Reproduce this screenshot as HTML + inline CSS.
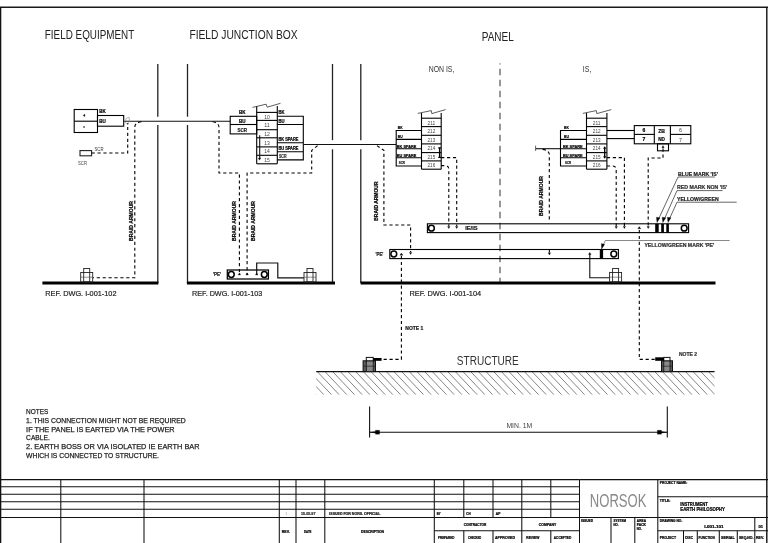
<!DOCTYPE html>
<html lang="en"><head><meta charset="utf-8"><title>Instrument Earth Philosophy</title>
<style>
html,body{margin:0;padding:0;background:#fff;}
body{width:768px;height:543px;overflow:hidden;}
svg{display:block;will-change:transform;transform:translateZ(0);font-family:"Liberation Sans","DejaVu Sans",sans-serif;}
</style></head><body>
<svg width="768" height="543" viewBox="0 0 768 543">
<rect x="0" y="0" width="768" height="543" fill="#fff"/>
<line x1="0" y1="7.3" x2="768" y2="7.3" stroke="#1a1a1a" stroke-width="1.5"/>
<line x1="0.6" y1="7" x2="0.6" y2="543" stroke="#111" stroke-width="1.4"/>
<line x1="766.8" y1="7" x2="766.8" y2="543" stroke="#111" stroke-width="1.4"/>
<text x="44.8" y="38.6" font-size="12.2" font-weight="normal" fill="#222" text-anchor="start" textLength="89.5" lengthAdjust="spacingAndGlyphs">FIELD EQUIPMENT</text>
<text x="189.4" y="38.6" font-size="12.2" font-weight="normal" fill="#222" text-anchor="start" textLength="108.2" lengthAdjust="spacingAndGlyphs">FIELD JUNCTION BOX</text>
<text x="481.7" y="40.8" font-size="12.8" font-weight="normal" fill="#222" text-anchor="start" textLength="32.1" lengthAdjust="spacingAndGlyphs">PANEL</text>
<text x="428.7" y="71.8" font-size="8.4" font-weight="normal" fill="#333" text-anchor="start" textLength="25.7" lengthAdjust="spacingAndGlyphs">NON IS,</text>
<text x="582.8" y="71.8" font-size="8.4" font-weight="normal" fill="#333" text-anchor="start" textLength="8.6" lengthAdjust="spacingAndGlyphs">IS,</text>
<line x1="157.8" y1="64" x2="157.8" y2="116.7" stroke="#222" stroke-width="1.3"/>
<line x1="157.8" y1="125" x2="157.8" y2="283" stroke="#222" stroke-width="1.3"/>
<line x1="187.5" y1="64" x2="187.5" y2="116.7" stroke="#222" stroke-width="1.3"/>
<line x1="187.5" y1="125" x2="187.5" y2="283" stroke="#222" stroke-width="1.3"/>
<line x1="332.5" y1="64" x2="332.5" y2="140.2" stroke="#222" stroke-width="1.3"/>
<line x1="332.5" y1="149.3" x2="332.5" y2="283" stroke="#222" stroke-width="1.3"/>
<line x1="360.8" y1="64" x2="360.8" y2="140.2" stroke="#222" stroke-width="1.3"/>
<line x1="360.8" y1="149.3" x2="360.8" y2="283" stroke="#222" stroke-width="1.3"/>
<line x1="500" y1="68.7" x2="500" y2="282" stroke="#444" stroke-width="1.1" stroke-dasharray="6.5 4.5"/>
<line x1="500" y1="63.3" x2="500" y2="64.5" stroke="#666" stroke-width="1.1"/>
<line x1="42.4" y1="283" x2="158.4" y2="283" stroke="#000" stroke-width="2.8"/>
<line x1="186.9" y1="283" x2="335" y2="283" stroke="#000" stroke-width="2.8"/>
<line x1="360.6" y1="283" x2="715.5" y2="283" stroke="#000" stroke-width="2.8"/>
<rect x="74.2" y="109.5" width="23.3" height="23.0" fill="none" stroke="#000" stroke-width="1.1"/>
<line x1="74.2" y1="121.2" x2="97.5" y2="121.2" stroke="#000" stroke-width="1.1"/>
<rect x="97.5" y="115.5" width="26.2" height="10.7" fill="none" stroke="#000" stroke-width="1.1"/>
<text x="99.3" y="113.4" font-size="5.2" font-weight="bold" fill="#000" text-anchor="start" textLength="6.5" lengthAdjust="spacingAndGlyphs" stroke="#000" stroke-width="0.22">BK</text>
<text x="99.3" y="122.6" font-size="5.2" font-weight="bold" fill="#000" text-anchor="start" textLength="6.5" lengthAdjust="spacingAndGlyphs" stroke="#000" stroke-width="0.22">BU</text>
<path d="M84.8 114.2 L83.2 115.4 L84.8 116.6 Z" fill="#000" stroke="#000" stroke-width="0.4"/>
<line x1="83.2" y1="127" x2="85" y2="127" stroke="#000" stroke-width="1"/>
<line x1="123.7" y1="121.3" x2="230.2" y2="121.3" stroke="#111" stroke-width="1.1"/>
<rect x="80" y="150.6" width="11.6" height="5.2" fill="none" stroke="#222" stroke-width="1.1"/>
<text x="94.5" y="150.6" font-size="4.8" font-weight="normal" fill="#333" text-anchor="start" textLength="9" lengthAdjust="spacingAndGlyphs">SCR</text>
<text x="78" y="164.6" font-size="4.8" font-weight="normal" fill="#444" text-anchor="start" textLength="9" lengthAdjust="spacingAndGlyphs">SCR</text>
<path d="M91.6 153 H127.7 V123" fill="none" stroke="#000" stroke-width="1.1" stroke-dasharray="3.2 2.7"/>
<path d="M141.5 121.8 Q135 122.6 134.8 127 V277.7 H93" fill="none" stroke="#000" stroke-width="1.1" stroke-dasharray="3.2 2.7"/>
<path d="M124.5 121.3 Q126.5 116.6 129.2 117.4 Q130.2 121.5 127.8 124.6 Q125.4 123.5 124.5 121.3" fill="none" stroke="#888" stroke-width="0.6"/>
<rect x="80.7" y="272.5" width="12.0" height="9.5" fill="none" stroke="#222" stroke-width="0.9"/>
<rect x="83.7" y="268.5" width="6.0" height="13.5" fill="none" stroke="#222" stroke-width="0.9"/>
<line x1="80.7" y1="277.2" x2="92.7" y2="277.2" stroke="#444" stroke-width="0.6"/>
<text x="132.6" y="241" font-size="5" font-weight="bold" fill="#000" text-anchor="start" textLength="40" lengthAdjust="spacingAndGlyphs" transform="rotate(-90 132.6 241)" stroke="#000" stroke-width="0.22">BRAID ARMOUR</text>
<text x="45.3" y="296.2" font-size="8" font-weight="normal" fill="#222" text-anchor="start" textLength="71.2" lengthAdjust="spacingAndGlyphs" stroke="#222" stroke-width="0.2">REF. DWG. I-001-102</text>
<line x1="256.7" y1="112.4" x2="277.3" y2="112.4" stroke="#000" stroke-width="1.1"/>
<line x1="256.7" y1="120.4" x2="277.3" y2="120.4" stroke="#000" stroke-width="1.1"/>
<line x1="256.7" y1="129.7" x2="277.3" y2="129.7" stroke="#000" stroke-width="1.1"/>
<line x1="256.7" y1="137.8" x2="277.3" y2="137.8" stroke="#000" stroke-width="1.1"/>
<line x1="256.7" y1="146.9" x2="277.3" y2="146.9" stroke="#000" stroke-width="1.1"/>
<line x1="256.7" y1="155.3" x2="277.3" y2="155.3" stroke="#000" stroke-width="1.1"/>
<line x1="256.7" y1="163.8" x2="277.3" y2="163.8" stroke="#000" stroke-width="1.1"/>
<line x1="256.7" y1="105.9" x2="256.7" y2="163.8" stroke="#000" stroke-width="1.1"/>
<line x1="277.3" y1="105.9" x2="277.3" y2="163.8" stroke="#000" stroke-width="1.1"/>
<text x="267.0" y="118.6" font-size="6" font-weight="normal" fill="#444" text-anchor="middle" textLength="5.6" lengthAdjust="spacingAndGlyphs">10</text>
<text x="267.0" y="127.25" font-size="6" font-weight="normal" fill="#444" text-anchor="middle" textLength="5.6" lengthAdjust="spacingAndGlyphs">11</text>
<text x="267.0" y="135.95" font-size="6" font-weight="normal" fill="#444" text-anchor="middle" textLength="5.6" lengthAdjust="spacingAndGlyphs">12</text>
<text x="267.0" y="144.55" font-size="6" font-weight="normal" fill="#444" text-anchor="middle" textLength="5.6" lengthAdjust="spacingAndGlyphs">13</text>
<text x="267.0" y="153.3" font-size="6" font-weight="normal" fill="#444" text-anchor="middle" textLength="5.6" lengthAdjust="spacingAndGlyphs">14</text>
<text x="267.0" y="161.75" font-size="6" font-weight="normal" fill="#444" text-anchor="middle" textLength="5.6" lengthAdjust="spacingAndGlyphs">15</text>
<path d="M252.5 107.4 L266.2 104.2 L267.2 107.2 L280.5 103.3" fill="none" stroke="#333" stroke-width="0.8"/>
<rect x="230.2" y="116.3" width="26.5" height="17.6" fill="none" stroke="#000" stroke-width="1.1"/>
<line x1="230.2" y1="124.5" x2="256.7" y2="124.5" stroke="#000" stroke-width="1.1"/>
<text x="239" y="113.6" font-size="5.2" font-weight="bold" fill="#000" text-anchor="start" textLength="6.5" lengthAdjust="spacingAndGlyphs" stroke="#000" stroke-width="0.22">BK</text>
<text x="239" y="122.6" font-size="5.2" font-weight="bold" fill="#000" text-anchor="start" textLength="6.5" lengthAdjust="spacingAndGlyphs" stroke="#000" stroke-width="0.22">BU</text>
<text x="237.6" y="132" font-size="5.2" font-weight="bold" fill="#222" text-anchor="start" textLength="9.5" lengthAdjust="spacingAndGlyphs" stroke="#222" stroke-width="0.22">SCR</text>
<path d="M277.3 116.3 H303.3 V159.9 H277.3 M277.3 124.5 H303.3 M277.3 142.7 H303.3 M277.3 151.8 H303.3" fill="none" stroke="#000" stroke-width="1.1"/>
<text x="278.6" y="114.2" font-size="4.8" font-weight="bold" fill="#000" text-anchor="start" textLength="6" lengthAdjust="spacingAndGlyphs" stroke="#000" stroke-width="0.22">BK</text>
<text x="278.6" y="122.8" font-size="4.8" font-weight="bold" fill="#000" text-anchor="start" textLength="6" lengthAdjust="spacingAndGlyphs" stroke="#000" stroke-width="0.22">BU</text>
<text x="278.4" y="141.4" font-size="4.6" font-weight="bold" fill="#000" text-anchor="start" textLength="20" lengthAdjust="spacingAndGlyphs" stroke="#000" stroke-width="0.22">BK SPARE</text>
<text x="278.4" y="150.4" font-size="4.6" font-weight="bold" fill="#000" text-anchor="start" textLength="20" lengthAdjust="spacingAndGlyphs" stroke="#000" stroke-width="0.22">BU SPARE</text>
<text x="279" y="158.4" font-size="4.6" font-weight="bold" fill="#333" text-anchor="start" textLength="7.5" lengthAdjust="spacingAndGlyphs" stroke="#333" stroke-width="0.22">SCR</text>
<line x1="259.7" y1="135.2" x2="259.7" y2="159.2" stroke="#111" stroke-width="1.1"/>
<path d="M258.4 158 L259.4 160.2 L260.6 158 Z" fill="#000" stroke="#000" stroke-width="0.3"/>
<line x1="303.3" y1="144.5" x2="396.2" y2="144.5" stroke="#111" stroke-width="1.1"/>
<path d="M212.6 121.8 Q218.5 122.6 219 127 V173 H239.4 V274" fill="none" stroke="#000" stroke-width="1.1" stroke-dasharray="3.2 2.7"/>
<path d="M317.6 145.6 L311.7 150.4 V173 H247.1 V274" fill="none" stroke="#000" stroke-width="1.1" stroke-dasharray="3.2 2.7"/>
<text x="236.4" y="241" font-size="5" font-weight="bold" fill="#000" text-anchor="start" textLength="40" lengthAdjust="spacingAndGlyphs" transform="rotate(-90 236.4 241)" stroke="#000" stroke-width="0.22">BRAID ARMOUR</text>
<text x="254.8" y="241" font-size="5" font-weight="bold" fill="#000" text-anchor="start" textLength="40" lengthAdjust="spacingAndGlyphs" transform="rotate(-90 254.8 241)" stroke="#000" stroke-width="0.22">BRAID ARMOUR</text>
<rect x="227.3" y="270" width="41.1" height="9" fill="none" stroke="#000" stroke-width="1.25"/>
<circle cx="231.3" cy="274.5" r="2.9" fill="#fff" stroke="#000" stroke-width="1.5"/>
<circle cx="264.3" cy="274.5" r="2.9" fill="#fff" stroke="#000" stroke-width="1.5"/>
<path d="M238.20000000000002 275.0 L239.4 272.8 L240.6 275.0 Z" fill="#000" stroke="#000" stroke-width="0.3"/>
<path d="M245.9 275.0 L247.1 272.8 L248.29999999999998 275.0 Z" fill="#000" stroke="#000" stroke-width="0.3"/>
<path d="M255.5 275.0 L256.7 272.8 L257.9 275.0 Z" fill="#000" stroke="#000" stroke-width="0.3"/>
<path d="M256.7 275 V263 H277.8 V277.8 H304" fill="none" stroke="#111" stroke-width="1.2"/>
<rect x="304" y="272.5" width="12" height="9.5" fill="none" stroke="#222" stroke-width="0.9"/>
<rect x="307" y="268.5" width="6" height="13.5" fill="none" stroke="#222" stroke-width="0.9"/>
<line x1="304" y1="277.2" x2="316" y2="277.2" stroke="#444" stroke-width="0.6"/>
<text x="213" y="276.4" font-size="5" font-weight="bold" fill="#222" text-anchor="start" textLength="8" lengthAdjust="spacingAndGlyphs" stroke="#222" stroke-width="0.22">'PE'</text>
<text x="192" y="296.2" font-size="8" font-weight="normal" fill="#222" text-anchor="start" textLength="70.2" lengthAdjust="spacingAndGlyphs" stroke="#222" stroke-width="0.2">REF. DWG. I-001-103</text>
<line x1="421.5" y1="118.2" x2="441.2" y2="118.2" stroke="#000" stroke-width="1.1"/>
<line x1="421.5" y1="126.6" x2="441.2" y2="126.6" stroke="#000" stroke-width="1.1"/>
<line x1="421.5" y1="135.3" x2="441.2" y2="135.3" stroke="#000" stroke-width="1.1"/>
<line x1="421.5" y1="143.9" x2="441.2" y2="143.9" stroke="#000" stroke-width="1.1"/>
<line x1="421.5" y1="152.6" x2="441.2" y2="152.6" stroke="#000" stroke-width="1.1"/>
<line x1="421.5" y1="160.9" x2="441.2" y2="160.9" stroke="#000" stroke-width="1.1"/>
<line x1="421.5" y1="169.2" x2="441.2" y2="169.2" stroke="#000" stroke-width="1.1"/>
<line x1="421.5" y1="113" x2="421.5" y2="169.2" stroke="#000" stroke-width="1.1"/>
<line x1="441.2" y1="113" x2="441.2" y2="169.2" stroke="#000" stroke-width="1.1"/>
<text x="431.35" y="124.6" font-size="6" font-weight="normal" fill="#444" text-anchor="middle" textLength="7.8" lengthAdjust="spacingAndGlyphs">211</text>
<text x="431.35" y="133.15" font-size="6" font-weight="normal" fill="#444" text-anchor="middle" textLength="7.8" lengthAdjust="spacingAndGlyphs">212</text>
<text x="431.35" y="141.8" font-size="6" font-weight="normal" fill="#444" text-anchor="middle" textLength="7.8" lengthAdjust="spacingAndGlyphs">213</text>
<text x="431.35" y="150.45" font-size="6" font-weight="normal" fill="#444" text-anchor="middle" textLength="7.8" lengthAdjust="spacingAndGlyphs">214</text>
<text x="431.35" y="158.95" font-size="6" font-weight="normal" fill="#444" text-anchor="middle" textLength="7.8" lengthAdjust="spacingAndGlyphs">215</text>
<text x="431.35" y="167.25" font-size="6" font-weight="normal" fill="#444" text-anchor="middle" textLength="7.8" lengthAdjust="spacingAndGlyphs">216</text>
<path d="M417.8 113.4 L431.3 110.6 L431.8 113.6 L445.59999999999997 109.6" fill="none" stroke="#333" stroke-width="0.8"/>
<path d="M421.5 130.5 H396.2 V166 H421.5 M396.2 139.4 H421.5 M396.2 148.8 H421.5 M396.2 157.7 H421.5" fill="none" stroke="#000" stroke-width="1.1"/>
<text x="397.8" y="129" font-size="4.4" font-weight="bold" fill="#000" text-anchor="start" textLength="4.8" lengthAdjust="spacingAndGlyphs" stroke="#000" stroke-width="0.22">BK</text>
<text x="397.8" y="137.9" font-size="4.4" font-weight="bold" fill="#000" text-anchor="start" textLength="4.8" lengthAdjust="spacingAndGlyphs" stroke="#000" stroke-width="0.22">BU</text>
<text x="396.8" y="147.5" font-size="4.4" font-weight="bold" fill="#000" text-anchor="start" textLength="19.6" lengthAdjust="spacingAndGlyphs" stroke="#000" stroke-width="0.22">BK SPARE</text>
<text x="396.8" y="156.5" font-size="4.4" font-weight="bold" fill="#000" text-anchor="start" textLength="19.6" lengthAdjust="spacingAndGlyphs" stroke="#000" stroke-width="0.22">BU SPARE</text>
<text x="398.8" y="164.1" font-size="4.4" font-weight="bold" fill="#222" text-anchor="start" textLength="6.2" lengthAdjust="spacingAndGlyphs" stroke="#222" stroke-width="0.22">SCR</text>
<line x1="586.5" y1="118.2" x2="606.9" y2="118.2" stroke="#000" stroke-width="1.1"/>
<line x1="586.5" y1="126.6" x2="606.9" y2="126.6" stroke="#000" stroke-width="1.1"/>
<line x1="586.5" y1="135.3" x2="606.9" y2="135.3" stroke="#000" stroke-width="1.1"/>
<line x1="586.5" y1="143.9" x2="606.9" y2="143.9" stroke="#000" stroke-width="1.1"/>
<line x1="586.5" y1="152.6" x2="606.9" y2="152.6" stroke="#000" stroke-width="1.1"/>
<line x1="586.5" y1="160.9" x2="606.9" y2="160.9" stroke="#000" stroke-width="1.1"/>
<line x1="586.5" y1="169.2" x2="606.9" y2="169.2" stroke="#000" stroke-width="1.1"/>
<line x1="586.5" y1="113" x2="586.5" y2="169.2" stroke="#000" stroke-width="1.1"/>
<line x1="606.9" y1="113" x2="606.9" y2="169.2" stroke="#000" stroke-width="1.1"/>
<text x="596.7" y="124.6" font-size="6" font-weight="normal" fill="#444" text-anchor="middle" textLength="7.8" lengthAdjust="spacingAndGlyphs">211</text>
<text x="596.7" y="133.15" font-size="6" font-weight="normal" fill="#444" text-anchor="middle" textLength="7.8" lengthAdjust="spacingAndGlyphs">212</text>
<text x="596.7" y="141.8" font-size="6" font-weight="normal" fill="#444" text-anchor="middle" textLength="7.8" lengthAdjust="spacingAndGlyphs">213</text>
<text x="596.7" y="150.45" font-size="6" font-weight="normal" fill="#444" text-anchor="middle" textLength="7.8" lengthAdjust="spacingAndGlyphs">214</text>
<text x="596.7" y="158.95" font-size="6" font-weight="normal" fill="#444" text-anchor="middle" textLength="7.8" lengthAdjust="spacingAndGlyphs">215</text>
<text x="596.7" y="167.25" font-size="6" font-weight="normal" fill="#444" text-anchor="middle" textLength="7.8" lengthAdjust="spacingAndGlyphs">216</text>
<path d="M582.8 113.4 L596.3 110.6 L596.8 113.6 L611.3 109.6" fill="none" stroke="#333" stroke-width="0.8"/>
<path d="M586.5 130.5 H560.5 V166 H586.5 M560.5 139.4 H586.5 M560.5 148.8 H586.5 M560.5 157.7 H586.5" fill="none" stroke="#000" stroke-width="1.1"/>
<text x="564.0" y="129" font-size="4.4" font-weight="bold" fill="#000" text-anchor="start" textLength="4.8" lengthAdjust="spacingAndGlyphs" stroke="#000" stroke-width="0.22">BK</text>
<text x="564.0" y="137.9" font-size="4.4" font-weight="bold" fill="#000" text-anchor="start" textLength="4.8" lengthAdjust="spacingAndGlyphs" stroke="#000" stroke-width="0.22">BU</text>
<text x="563.0" y="147.5" font-size="4.4" font-weight="bold" fill="#000" text-anchor="start" textLength="19.6" lengthAdjust="spacingAndGlyphs" stroke="#000" stroke-width="0.22">BK SPARE</text>
<text x="563.0" y="156.5" font-size="4.4" font-weight="bold" fill="#000" text-anchor="start" textLength="19.6" lengthAdjust="spacingAndGlyphs" stroke="#000" stroke-width="0.22">BU SPARE</text>
<text x="565.0" y="164.1" font-size="4.4" font-weight="bold" fill="#222" text-anchor="start" textLength="6.2" lengthAdjust="spacingAndGlyphs" stroke="#222" stroke-width="0.22">SCR</text>
<path d="M438.2 147.9 H441 M439.6 147.9 V157.4 M438.2 157.4 H441" fill="none" stroke="#000" stroke-width="1.3"/>
<line x1="604.7" y1="147.4" x2="604.7" y2="157.4" stroke="#000" stroke-width="1.3"/>
<path d="M603.4000000000001 148.6 L604.7 146.4 L606.0 148.6 Z" fill="#000" stroke="#000" stroke-width="0.3"/>
<path d="M603.4000000000001 156.4 L604.7 158.6 L606.0 156.4 Z" fill="#000" stroke="#000" stroke-width="0.3"/>
<path d="M377 145.6 L383.9 150.4 V225 H410.6 V252" fill="none" stroke="#000" stroke-width="1.1" stroke-dasharray="3.2 2.7"/>
<path d="M409.40000000000003 252.4 L410.6 254.6 L411.8 252.4 Z" fill="#000" stroke="#000" stroke-width="0.3"/>
<path d="M441.1 157.6 H456.7 V226" fill="none" stroke="#000" stroke-width="1.1" stroke-dasharray="3.2 2.7"/>
<path d="M441.1 165.6 H446 Q448.6 166 448.8 169 V226" fill="none" stroke="#000" stroke-width="1.1" stroke-dasharray="3.2 2.7"/>
<path d="M447.6 226.4 L448.8 228.6 L450.0 226.4 Z" fill="#000" stroke="#000" stroke-width="0.3"/>
<path d="M455.5 226.4 L456.7 228.6 L457.9 226.4 Z" fill="#000" stroke="#000" stroke-width="0.3"/>
<text x="377.6" y="220.7" font-size="5" font-weight="bold" fill="#000" text-anchor="start" textLength="39.2" lengthAdjust="spacingAndGlyphs" transform="rotate(-90 377.6 220.7)" stroke="#000" stroke-width="0.22">BRAID ARMOUR</text>
<line x1="535.6" y1="148.7" x2="560.5" y2="148.7" stroke="#111" stroke-width="1.1"/>
<line x1="535.6" y1="145.6" x2="535.6" y2="151" stroke="#555" stroke-width="0.9"/>
<path d="M542.6 149.4 Q548.4 150 549.3 154 V221" fill="none" stroke="#000" stroke-width="1.1" stroke-dasharray="3.2 2.7"/>
<line x1="549.4" y1="250" x2="549.4" y2="252.4" stroke="#111" stroke-width="1.1"/>
<path d="M548.1999999999999 252.8 L549.4 255 L550.6 252.8 Z" fill="#000" stroke="#000" stroke-width="0.3"/>
<text x="543.4" y="216" font-size="5" font-weight="bold" fill="#000" text-anchor="start" textLength="40" lengthAdjust="spacingAndGlyphs" transform="rotate(-90 543.4 216)" stroke="#000" stroke-width="0.22">BRAID ARMOUR</text>
<path d="M606.9 157.6 H624.4 V226" fill="none" stroke="#000" stroke-width="1.1" stroke-dasharray="3.2 2.7"/>
<path d="M606.9 166 H613 Q616 166.4 616.2 169.4 V226" fill="none" stroke="#000" stroke-width="1.1" stroke-dasharray="3.2 2.7"/>
<path d="M615.0 226.4 L616.2 228.6 L617.4000000000001 226.4 Z" fill="#000" stroke="#000" stroke-width="0.3"/>
<path d="M623.1999999999999 226.4 L624.4 228.6 L625.6 226.4 Z" fill="#000" stroke="#000" stroke-width="0.3"/>
<line x1="606.9" y1="130.5" x2="634.3" y2="130.5" stroke="#000" stroke-width="1.1"/>
<line x1="606.9" y1="138.6" x2="634.3" y2="138.6" stroke="#000" stroke-width="1.1"/>
<rect x="634.3" y="125.6" width="56.5" height="18.2" fill="none" stroke="#000" stroke-width="1.1"/>
<line x1="654.3" y1="125.6" x2="654.3" y2="143.8" stroke="#000" stroke-width="1.1"/>
<line x1="670.4" y1="125.6" x2="670.4" y2="143.8" stroke="#000" stroke-width="1.1"/>
<line x1="634.3" y1="134.4" x2="654.3" y2="134.4" stroke="#000" stroke-width="1.1"/>
<line x1="670.4" y1="134.4" x2="690.8" y2="134.4" stroke="#000" stroke-width="1.1"/>
<rect x="657.5" y="143.8" width="11.0" height="7.0" fill="none" stroke="#000" stroke-width="1.1"/>
<text x="644" y="132.2" font-size="5" font-weight="bold" fill="#000" text-anchor="middle" stroke="#000" stroke-width="0.22">6</text>
<text x="644" y="141" font-size="5" font-weight="bold" fill="#000" text-anchor="middle" stroke="#000" stroke-width="0.22">7</text>
<text x="661.6" y="133.4" font-size="5.2" font-weight="bold" fill="#111" text-anchor="middle" textLength="6.8" lengthAdjust="spacingAndGlyphs" stroke="#111" stroke-width="0.22">ZB</text>
<text x="661.6" y="141.2" font-size="5.2" font-weight="bold" fill="#111" text-anchor="middle" textLength="6.8" lengthAdjust="spacingAndGlyphs" stroke="#111" stroke-width="0.22">ND</text>
<text x="680.6" y="132.4" font-size="5.4" font-weight="normal" fill="#444" text-anchor="middle">6</text>
<text x="680.6" y="141.6" font-size="5.4" font-weight="normal" fill="#444" text-anchor="middle">7</text>
<path d="M663 148.6 V158 H648.2 V226" fill="none" stroke="#000" stroke-width="1.1" stroke-dasharray="3.2 2.7"/>
<path d="M661.8 147.79999999999998 L663 145.6 L664.2 147.79999999999998 Z" fill="#000" stroke="#000" stroke-width="0.3"/>
<path d="M647.0 226.4 L648.2 228.6 L649.4000000000001 226.4 Z" fill="#000" stroke="#000" stroke-width="0.3"/>
<rect x="427.4" y="223.8" width="261.2" height="8.8" fill="none" stroke="#000" stroke-width="1.1"/>
<circle cx="431.4" cy="228.2" r="2.9" fill="#fff" stroke="#000" stroke-width="1.5"/>
<circle cx="684.2" cy="228.2" r="2.9" fill="#fff" stroke="#000" stroke-width="1.5"/>
<text x="465.2" y="230.4" font-size="5.2" font-weight="bold" fill="#222" text-anchor="start" textLength="12.4" lengthAdjust="spacingAndGlyphs" stroke="#222" stroke-width="0.22">IE/IS</text>
<rect x="655.2" y="223.8" width="3.5" height="8.8" fill="#000"/>
<rect x="661.2" y="223.8" width="2.7" height="8.8" fill="#000"/>
<rect x="666.3" y="223.8" width="2.6" height="8.8" fill="#000"/>
<rect x="389.8" y="249.5" width="228.6" height="9.1" fill="none" stroke="#000" stroke-width="1.1"/>
<circle cx="393.8" cy="254" r="2.9" fill="#fff" stroke="#000" stroke-width="1.5"/>
<circle cx="613.8" cy="254" r="2.9" fill="#fff" stroke="#000" stroke-width="1.5"/>
<rect x="599.8" y="249.5" width="3.3" height="9.1" fill="#000"/>
<text x="375.4" y="256.2" font-size="5" font-weight="bold" fill="#222" text-anchor="start" textLength="8" lengthAdjust="spacingAndGlyphs" stroke="#222" stroke-width="0.22">'PE'</text>
<text x="678" y="175.8" font-size="5.2" font-weight="bold" fill="#222" text-anchor="start" textLength="40" lengthAdjust="spacingAndGlyphs" stroke="#222" stroke-width="0.22">BLUE MARK 'IS'</text>
<path d="M714.9 177 H678 L658.6 219" fill="none" stroke="#222" stroke-width="0.7"/>
<text x="677" y="189" font-size="5.2" font-weight="bold" fill="#333" text-anchor="start" textLength="50.3" lengthAdjust="spacingAndGlyphs" stroke="#333" stroke-width="0.22">RED MARK NON 'IS'</text>
<path d="M722.5 190.6 H677 L664.4 219" fill="none" stroke="#222" stroke-width="0.7"/>
<text x="677" y="201" font-size="5.2" font-weight="bold" fill="#222" text-anchor="start" textLength="41.6" lengthAdjust="spacingAndGlyphs" stroke="#222" stroke-width="0.22">YELLOW/GREEN</text>
<path d="M736.7 202.2 H677 L669.4 219" fill="none" stroke="#222" stroke-width="0.7"/>
<path d="M656.4 217.2 L660.0 217.8 L657.0 222.6 Z" fill="#000" stroke="#000" stroke-width="0.3"/>
<path d="M662.1999999999999 217.2 L665.8 217.8 L662.8 222.6 Z" fill="#000" stroke="#000" stroke-width="0.3"/>
<path d="M667.4 217.2 L671.0 217.8 L668.0 222.6 Z" fill="#000" stroke="#000" stroke-width="0.3"/>
<path d="M729.6 240.5 H605.3 L603 245.5" fill="none" stroke="#555" stroke-width="0.7"/>
<path d="M601.4 243.6 L604.6 244.4 L601.6 249 Z" fill="#000" stroke="#000" stroke-width="0.3"/>
<text x="644.4" y="247" font-size="5" font-weight="bold" fill="#333" text-anchor="start" textLength="69.8" lengthAdjust="spacingAndGlyphs" stroke="#333" stroke-width="0.22">YELLOW/GREEN MARK 'PE'</text>
<path d="M589.8 254 V277.7 H609.6" fill="none" stroke="#111" stroke-width="1.1"/>
<path d="M588.5 254.6 L589.8 252.4 L591.0999999999999 254.6 Z" fill="#000" stroke="#000" stroke-width="0.3"/>
<rect x="609.6" y="272.5" width="12.0" height="9.5" fill="none" stroke="#222" stroke-width="0.9"/>
<rect x="612.6" y="268.5" width="6.0" height="13.5" fill="none" stroke="#222" stroke-width="0.9"/>
<line x1="609.6" y1="277.2" x2="621.6" y2="277.2" stroke="#444" stroke-width="0.6"/>
<path d="M401.4 256 V359.4 H381.4" fill="none" stroke="#000" stroke-width="1.1" stroke-dasharray="3.2 2.7"/>
<path d="M399.9 255.2 L401.4 253 L402.9 255.2 Z" fill="#000" stroke="#000" stroke-width="0.3"/>
<path d="M639.3 230 V359.4 H655.2" fill="none" stroke="#000" stroke-width="1.1" stroke-dasharray="3.2 2.7"/>
<path d="M637.8 228.79999999999998 L639.3 226.6 L640.8 228.79999999999998 Z" fill="#000" stroke="#000" stroke-width="0.3"/>
<text x="409.4" y="296.2" font-size="8" font-weight="normal" fill="#222" text-anchor="start" textLength="71.8" lengthAdjust="spacingAndGlyphs" stroke="#222" stroke-width="0.2">REF. DWG. I-001-104</text>
<text x="405.3" y="330.3" font-size="4.8" font-weight="bold" fill="#222" text-anchor="start" textLength="18" lengthAdjust="spacingAndGlyphs" stroke="#222" stroke-width="0.22">NOTE 1</text>
<text x="679" y="356.2" font-size="4.8" font-weight="bold" fill="#333" text-anchor="start" textLength="18" lengthAdjust="spacingAndGlyphs" stroke="#333" stroke-width="0.22">NOTE 2</text>
<text x="456.8" y="364.8" font-size="12" font-weight="normal" fill="#333" text-anchor="start" textLength="62" lengthAdjust="spacingAndGlyphs">STRUCTURE</text>
<defs><clipPath id="hc"><rect x="316.2" y="371.8" width="398.4" height="22.9"/></clipPath></defs>
<g clip-path="url(#hc)" stroke="#707070" stroke-width="0.85">
<line x1="286.6" y1="371.6" x2="308.6" y2="394.8"/>
<line x1="294.27" y1="371.6" x2="316.27" y2="394.8"/>
<line x1="301.94" y1="371.6" x2="323.94" y2="394.8"/>
<line x1="309.61" y1="371.6" x2="331.61" y2="394.8"/>
<line x1="317.28" y1="371.6" x2="339.28" y2="394.8"/>
<line x1="324.95" y1="371.6" x2="346.95" y2="394.8"/>
<line x1="332.62" y1="371.6" x2="354.62" y2="394.8"/>
<line x1="340.29" y1="371.6" x2="362.29" y2="394.8"/>
<line x1="347.96" y1="371.6" x2="369.96" y2="394.8"/>
<line x1="355.63" y1="371.6" x2="377.63" y2="394.8"/>
<line x1="363.3" y1="371.6" x2="385.3" y2="394.8"/>
<line x1="370.97" y1="371.6" x2="392.97" y2="394.8"/>
<line x1="378.64" y1="371.6" x2="400.64" y2="394.8"/>
<line x1="386.31" y1="371.6" x2="408.31" y2="394.8"/>
<line x1="393.98" y1="371.6" x2="415.98" y2="394.8"/>
<line x1="401.65" y1="371.6" x2="423.65" y2="394.8"/>
<line x1="409.32" y1="371.6" x2="431.32" y2="394.8"/>
<line x1="416.99" y1="371.6" x2="438.99" y2="394.8"/>
<line x1="424.66" y1="371.6" x2="446.66" y2="394.8"/>
<line x1="432.33" y1="371.6" x2="454.33" y2="394.8"/>
<line x1="440.0" y1="371.6" x2="462.0" y2="394.8"/>
<line x1="447.67" y1="371.6" x2="469.67" y2="394.8"/>
<line x1="455.34" y1="371.6" x2="477.34" y2="394.8"/>
<line x1="463.01" y1="371.6" x2="485.01" y2="394.8"/>
<line x1="470.68" y1="371.6" x2="492.68" y2="394.8"/>
<line x1="478.35" y1="371.6" x2="500.35" y2="394.8"/>
<line x1="486.02" y1="371.6" x2="508.02" y2="394.8"/>
<line x1="493.69" y1="371.6" x2="515.69" y2="394.8"/>
<line x1="501.36" y1="371.6" x2="523.36" y2="394.8"/>
<line x1="509.03" y1="371.6" x2="531.03" y2="394.8"/>
<line x1="516.7" y1="371.6" x2="538.7" y2="394.8"/>
<line x1="524.37" y1="371.6" x2="546.37" y2="394.8"/>
<line x1="532.04" y1="371.6" x2="554.04" y2="394.8"/>
<line x1="539.71" y1="371.6" x2="561.71" y2="394.8"/>
<line x1="547.38" y1="371.6" x2="569.38" y2="394.8"/>
<line x1="555.05" y1="371.6" x2="577.05" y2="394.8"/>
<line x1="562.72" y1="371.6" x2="584.72" y2="394.8"/>
<line x1="570.39" y1="371.6" x2="592.39" y2="394.8"/>
<line x1="578.06" y1="371.6" x2="600.06" y2="394.8"/>
<line x1="585.73" y1="371.6" x2="607.73" y2="394.8"/>
<line x1="593.4" y1="371.6" x2="615.4" y2="394.8"/>
<line x1="601.07" y1="371.6" x2="623.07" y2="394.8"/>
<line x1="608.74" y1="371.6" x2="630.74" y2="394.8"/>
<line x1="616.41" y1="371.6" x2="638.41" y2="394.8"/>
<line x1="624.08" y1="371.6" x2="646.08" y2="394.8"/>
<line x1="631.75" y1="371.6" x2="653.75" y2="394.8"/>
<line x1="639.42" y1="371.6" x2="661.42" y2="394.8"/>
<line x1="647.09" y1="371.6" x2="669.09" y2="394.8"/>
<line x1="654.76" y1="371.6" x2="676.76" y2="394.8"/>
<line x1="662.43" y1="371.6" x2="684.43" y2="394.8"/>
<line x1="670.1" y1="371.6" x2="692.1" y2="394.8"/>
<line x1="677.77" y1="371.6" x2="699.77" y2="394.8"/>
<line x1="685.44" y1="371.6" x2="707.44" y2="394.8"/>
<line x1="693.11" y1="371.6" x2="715.11" y2="394.8"/>
<line x1="700.78" y1="371.6" x2="722.78" y2="394.8"/>
<line x1="708.45" y1="371.6" x2="730.45" y2="394.8"/>
<line x1="716.12" y1="371.6" x2="738.12" y2="394.8"/>
</g>
<line x1="316.2" y1="371.7" x2="714.6" y2="371.7" stroke="#111" stroke-width="1.2"/>
<rect x="363.1" y="360.8" width="12.4" height="10.8" fill="#5a5a5a" stroke="#111" stroke-width="1"/>
<rect x="366.3" y="360.8" width="6.9" height="10.8" fill="#8a8a8a" stroke="#111" stroke-width="0.8"/>
<rect x="366.3" y="357.4" width="6.9" height="3.4" fill="#fff" stroke="#111" stroke-width="1"/>
<line x1="363.1" y1="366.2" x2="375.5" y2="366.2" stroke="#222" stroke-width="0.7"/>
<rect x="373.2" y="358" width="8.4" height="2.8" fill="#000"/>
<rect x="661.5" y="360.8" width="11" height="10.8" fill="#5a5a5a" stroke="#111" stroke-width="1"/>
<rect x="663.8" y="360.8" width="6.2" height="10.8" fill="#8a8a8a" stroke="#111" stroke-width="0.8"/>
<rect x="663.8" y="357.4" width="6.2" height="3.4" fill="#fff" stroke="#111" stroke-width="1"/>
<line x1="661.5" y1="366.2" x2="672.5" y2="366.2" stroke="#222" stroke-width="0.7"/>
<rect x="655.2" y="357.3" width="8.8" height="3.5" fill="#000"/>
<line x1="369.6" y1="406.6" x2="369.6" y2="437.6" stroke="#111" stroke-width="1.1"/>
<line x1="667.3" y1="406.6" x2="667.3" y2="437.6" stroke="#111" stroke-width="1.1"/>
<line x1="369.6" y1="432.2" x2="667.3" y2="432.2" stroke="#111" stroke-width="1.1"/>
<path d="M369.8 432.2 L375.4 431.4 L375.4 430.2 L379.6 430.2 L379.6 434.2 L375.4 434.2 L375.4 433 Z" fill="#000" stroke="#000" stroke-width="0.2"/>
<path d="M667.1 432.2 L661.5 431.4 L661.5 430.2 L657.3 430.2 L657.3 434.2 L661.5 434.2 L661.5 433 Z" fill="#000" stroke="#000" stroke-width="0.2"/>
<text x="506.4" y="428.4" font-size="7" font-weight="normal" fill="#444" text-anchor="start" textLength="25.8" lengthAdjust="spacingAndGlyphs">MIN. 1M</text>
<text x="26.1" y="414.2" font-size="7.6" font-weight="normal" fill="#222" text-anchor="start" textLength="22.2" lengthAdjust="spacingAndGlyphs" stroke="#222" stroke-width="0.25">NOTES</text>
<text x="26.1" y="422.8" font-size="7.6" font-weight="normal" fill="#222" text-anchor="start" textLength="159.7" lengthAdjust="spacingAndGlyphs" stroke="#222" stroke-width="0.25">1. THIS CONNECTION MIGHT NOT BE REQUIRED</text>
<text x="26.1" y="431.6" font-size="7.6" font-weight="normal" fill="#222" text-anchor="start" textLength="148.5" lengthAdjust="spacingAndGlyphs" stroke="#222" stroke-width="0.25">IF THE PANEL IS EARTED VIA THE POWER</text>
<text x="26.1" y="439.8" font-size="7.6" font-weight="normal" fill="#222" text-anchor="start" textLength="23.7" lengthAdjust="spacingAndGlyphs" stroke="#222" stroke-width="0.25">CABLE.</text>
<text x="26.1" y="448.8" font-size="7.6" font-weight="normal" fill="#222" text-anchor="start" textLength="173.5" lengthAdjust="spacingAndGlyphs" stroke="#222" stroke-width="0.25">2. EARTH BOSS OR VIA ISOLATED IE EARTH BAR</text>
<text x="26.1" y="457.6" font-size="7.6" font-weight="normal" fill="#222" text-anchor="start" textLength="132.9" lengthAdjust="spacingAndGlyphs" stroke="#222" stroke-width="0.25">WHICH IS CONNECTED TO STRUCTURE.</text>
<line x1="0" y1="479.6" x2="579.5" y2="479.6" stroke="#111" stroke-width="1.05"/>
<line x1="0" y1="486.8" x2="579.5" y2="486.8" stroke="#111" stroke-width="1.05"/>
<line x1="0" y1="494.2" x2="579.5" y2="494.2" stroke="#111" stroke-width="1.05"/>
<line x1="0" y1="501.7" x2="579.5" y2="501.7" stroke="#111" stroke-width="1.05"/>
<line x1="0" y1="509.2" x2="579.5" y2="509.2" stroke="#111" stroke-width="1.05"/>
<line x1="579.5" y1="479.6" x2="768" y2="479.6" stroke="#111" stroke-width="1.05"/>
<line x1="0" y1="517.4" x2="768" y2="517.4" stroke="#111" stroke-width="1.05"/>
<line x1="60.8" y1="479.6" x2="60.8" y2="543" stroke="#111" stroke-width="1.05"/>
<line x1="144" y1="479.6" x2="144" y2="543" stroke="#111" stroke-width="1.05"/>
<line x1="279.3" y1="479.6" x2="279.3" y2="543" stroke="#111" stroke-width="1.05"/>
<line x1="296" y1="479.6" x2="296" y2="543" stroke="#111" stroke-width="1.05"/>
<line x1="324.8" y1="479.6" x2="324.8" y2="543" stroke="#111" stroke-width="1.05"/>
<line x1="434.3" y1="479.6" x2="434.3" y2="543" stroke="#111" stroke-width="1.05"/>
<line x1="579.5" y1="479.6" x2="579.5" y2="543" stroke="#111" stroke-width="1.05"/>
<line x1="657.8" y1="479.6" x2="657.8" y2="543" stroke="#111" stroke-width="1.05"/>
<line x1="463.8" y1="479.6" x2="463.8" y2="517.4" stroke="#111" stroke-width="1.05"/>
<line x1="463.8" y1="530.8" x2="463.8" y2="543" stroke="#111" stroke-width="1.05"/>
<line x1="493" y1="479.6" x2="493" y2="517.4" stroke="#111" stroke-width="1.05"/>
<line x1="493" y1="530.8" x2="493" y2="543" stroke="#111" stroke-width="1.05"/>
<line x1="550.8" y1="479.6" x2="550.8" y2="517.4" stroke="#111" stroke-width="1.05"/>
<line x1="550.8" y1="530.8" x2="550.8" y2="543" stroke="#111" stroke-width="1.05"/>
<line x1="521.8" y1="479.6" x2="521.8" y2="543" stroke="#111" stroke-width="1.05"/>
<line x1="434.3" y1="530.8" x2="579.5" y2="530.8" stroke="#111" stroke-width="1.05"/>
<line x1="611" y1="517.4" x2="611" y2="543" stroke="#111" stroke-width="1.05"/>
<line x1="634.8" y1="517.4" x2="634.8" y2="543" stroke="#111" stroke-width="1.05"/>
<line x1="657.8" y1="496.8" x2="768" y2="496.8" stroke="#111" stroke-width="1.05"/>
<line x1="657.8" y1="530.8" x2="768" y2="530.8" stroke="#111" stroke-width="1.05"/>
<line x1="683.5" y1="530.8" x2="683.5" y2="543" stroke="#111" stroke-width="1.05"/>
<line x1="697.3" y1="530.8" x2="697.3" y2="543" stroke="#111" stroke-width="1.05"/>
<line x1="719.3" y1="530.8" x2="719.3" y2="543" stroke="#111" stroke-width="1.05"/>
<line x1="737.3" y1="530.8" x2="737.3" y2="543" stroke="#111" stroke-width="1.05"/>
<line x1="754.8" y1="517.4" x2="754.8" y2="543" stroke="#111" stroke-width="1.05"/>
<text x="285.4" y="515.2" font-size="3.6" font-weight="normal" fill="#666" text-anchor="start" textLength="1.4" lengthAdjust="spacingAndGlyphs">1</text>
<text x="301" y="515.2" font-size="3.6" font-weight="bold" fill="#333" text-anchor="start" textLength="14.5" lengthAdjust="spacingAndGlyphs" stroke="#333" stroke-width="0.22">15.05.97</text>
<text x="329.3" y="515.2" font-size="3.6" font-weight="bold" fill="#222" text-anchor="start" textLength="51" lengthAdjust="spacingAndGlyphs" stroke="#222" stroke-width="0.22">ISSUED FOR NORS. OFFICIAL</text>
<text x="436.8" y="515.2" font-size="3.6" font-weight="bold" fill="#000" text-anchor="start" textLength="3.8" lengthAdjust="spacingAndGlyphs" stroke="#000" stroke-width="0.22">BY</text>
<text x="466.3" y="515.2" font-size="3.6" font-weight="bold" fill="#000" text-anchor="start" textLength="4.2" lengthAdjust="spacingAndGlyphs" stroke="#000" stroke-width="0.22">CH</text>
<text x="495.8" y="515.2" font-size="3.6" font-weight="bold" fill="#000" text-anchor="start" textLength="4.6" lengthAdjust="spacingAndGlyphs" stroke="#000" stroke-width="0.22">AP</text>
<text x="281.8" y="532.6" font-size="3.8" font-weight="bold" fill="#000" text-anchor="start" textLength="8" lengthAdjust="spacingAndGlyphs" stroke="#000" stroke-width="0.22">REV.</text>
<text x="304" y="532.6" font-size="3.8" font-weight="bold" fill="#000" text-anchor="start" textLength="7.5" lengthAdjust="spacingAndGlyphs" stroke="#000" stroke-width="0.22">DATE</text>
<text x="361" y="532.6" font-size="3.8" font-weight="bold" fill="#000" text-anchor="start" textLength="23" lengthAdjust="spacingAndGlyphs" stroke="#000" stroke-width="0.22">DESCRIPTION</text>
<text x="463.8" y="525.6" font-size="3.8" font-weight="bold" fill="#000" text-anchor="start" textLength="22.5" lengthAdjust="spacingAndGlyphs" stroke="#000" stroke-width="0.22">CONTRACTOR</text>
<text x="538.8" y="525.6" font-size="3.8" font-weight="bold" fill="#000" text-anchor="start" textLength="17.5" lengthAdjust="spacingAndGlyphs" stroke="#000" stroke-width="0.22">COMPANY</text>
<text x="438" y="538.9" font-size="3.8" font-weight="bold" fill="#000" text-anchor="start" textLength="16.3" lengthAdjust="spacingAndGlyphs" stroke="#000" stroke-width="0.22">PREPARED</text>
<text x="468" y="538.9" font-size="3.8" font-weight="bold" fill="#000" text-anchor="start" textLength="13.3" lengthAdjust="spacingAndGlyphs" stroke="#000" stroke-width="0.22">CHECKED</text>
<text x="495" y="538.9" font-size="3.8" font-weight="bold" fill="#000" text-anchor="start" textLength="20" lengthAdjust="spacingAndGlyphs" stroke="#000" stroke-width="0.22">APPROVED</text>
<text x="526.3" y="538.9" font-size="3.8" font-weight="bold" fill="#000" text-anchor="start" textLength="13" lengthAdjust="spacingAndGlyphs" stroke="#000" stroke-width="0.22">REVIEW</text>
<text x="553.8" y="538.9" font-size="3.8" font-weight="bold" fill="#000" text-anchor="start" textLength="17.5" lengthAdjust="spacingAndGlyphs" stroke="#000" stroke-width="0.22">ACCEPTED</text>
<text x="589.8" y="506.9" font-size="17.6" font-weight="normal" fill="#888" text-anchor="start" textLength="56.7" lengthAdjust="spacingAndGlyphs">NORSOK</text>
<text x="659.8" y="483.6" font-size="3.8" font-weight="bold" fill="#000" text-anchor="start" textLength="27.5" lengthAdjust="spacingAndGlyphs" stroke="#000" stroke-width="0.22">PROJECT NAME:</text>
<text x="659.8" y="501.6" font-size="3.8" font-weight="bold" fill="#000" text-anchor="start" textLength="10.7" lengthAdjust="spacingAndGlyphs" stroke="#000" stroke-width="0.22">TITLE:</text>
<text x="680.3" y="505.6" font-size="4.6" font-weight="bold" fill="#000" text-anchor="start" textLength="27.5" lengthAdjust="spacingAndGlyphs" stroke="#000" stroke-width="0.22">INSTRUMENT</text>
<text x="680.3" y="511.4" font-size="4.6" font-weight="bold" fill="#000" text-anchor="start" textLength="44.5" lengthAdjust="spacingAndGlyphs" stroke="#000" stroke-width="0.22">EARTH PHILOSOPHY</text>
<text x="659.8" y="521.6" font-size="3.8" font-weight="bold" fill="#000" text-anchor="start" textLength="22.5" lengthAdjust="spacingAndGlyphs" stroke="#000" stroke-width="0.22">DRAWING NO.</text>
<text x="704.3" y="528.1" font-size="4" font-weight="bold" fill="#000" text-anchor="start" textLength="19.2" lengthAdjust="spacingAndGlyphs" stroke="#000" stroke-width="0.22">I-001-101</text>
<text x="758.5" y="528.1" font-size="4" font-weight="bold" fill="#000" text-anchor="start" textLength="4.5" lengthAdjust="spacingAndGlyphs" stroke="#000" stroke-width="0.22">01</text>
<text x="581" y="522.1" font-size="3.6" font-weight="bold" fill="#000" text-anchor="start" textLength="12" lengthAdjust="spacingAndGlyphs" stroke="#000" stroke-width="0.22">ISSUED</text>
<text x="613.5" y="522.1" font-size="3.6" font-weight="bold" fill="#000" text-anchor="start" textLength="12.5" lengthAdjust="spacingAndGlyphs" stroke="#000" stroke-width="0.22">SYSTEM</text>
<text x="613.5" y="526.2" font-size="3.6" font-weight="bold" fill="#000" text-anchor="start" textLength="5" lengthAdjust="spacingAndGlyphs" stroke="#000" stroke-width="0.22">NO.</text>
<text x="636.8" y="522.1" font-size="3.6" font-weight="bold" fill="#000" text-anchor="start" textLength="9.2" lengthAdjust="spacingAndGlyphs" stroke="#000" stroke-width="0.22">AREA</text>
<text x="636.8" y="526.2" font-size="3.6" font-weight="bold" fill="#000" text-anchor="start" textLength="9.2" lengthAdjust="spacingAndGlyphs" stroke="#000" stroke-width="0.22">PACK</text>
<text x="636.8" y="530.4" font-size="3.6" font-weight="bold" fill="#000" text-anchor="start" textLength="5" lengthAdjust="spacingAndGlyphs" stroke="#000" stroke-width="0.22">NO.</text>
<text x="659.8" y="538.9" font-size="3.8" font-weight="bold" fill="#000" text-anchor="start" textLength="16.2" lengthAdjust="spacingAndGlyphs" stroke="#000" stroke-width="0.22">PROJECT</text>
<text x="685.3" y="538.9" font-size="3.8" font-weight="bold" fill="#000" text-anchor="start" textLength="7.7" lengthAdjust="spacingAndGlyphs" stroke="#000" stroke-width="0.22">DISC</text>
<text x="698.5" y="538.9" font-size="3.8" font-weight="bold" fill="#000" text-anchor="start" textLength="16.2" lengthAdjust="spacingAndGlyphs" stroke="#000" stroke-width="0.22">FUNCTION</text>
<text x="721" y="538.9" font-size="3.8" font-weight="bold" fill="#000" text-anchor="start" textLength="13.7" lengthAdjust="spacingAndGlyphs" stroke="#000" stroke-width="0.22">SERIAL</text>
<text x="739" y="538.9" font-size="3.8" font-weight="bold" fill="#000" text-anchor="start" textLength="14.5" lengthAdjust="spacingAndGlyphs" stroke="#000" stroke-width="0.22">SEQ.NO.</text>
<text x="756" y="538.9" font-size="3.8" font-weight="bold" fill="#000" text-anchor="start" textLength="8" lengthAdjust="spacingAndGlyphs" stroke="#000" stroke-width="0.22">REV.</text>
</svg>
</body></html>
